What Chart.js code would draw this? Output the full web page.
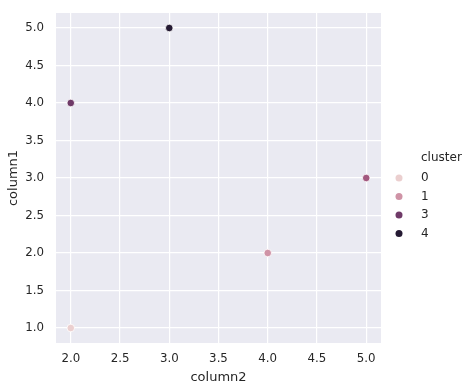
<!DOCTYPE html>
<html>
<head>
<meta charset="utf-8">
<script src="https://cdn.jsdelivr.net/npm/chart.js@4/dist/chart.umd.min.js"></script>
<style>
html,body{margin:0;padding:0;background:#fff;}
#wrap{width:474px;height:392px;position:relative;}
</style>
</head>
<body>
<div id="wrap"><canvas id="c" width="474" height="392"></canvas></div>
<script>
// Data
const column2 = [2, 4, 5, 2, 3];
const column1 = [1, 2, 3, 4, 5];
const cluster = [0, 1, 2, 3, 4];
const clusterColors = {0: '#ebcfcf', 1: '#cf93a6', 2: '#a2587f', 3: '#6f3a68', 4: '#251a33'};
const legendLabels = ['0', '1', '3', '4'];
const xTicks = [2.0, 2.5, 3.0, 3.5, 4.0, 4.5, 5.0];
const yTicks = [1.0, 1.5, 2.0, 2.5, 3.0, 3.5, 4.0, 4.5, 5.0];

const textColor = '#262626';
const font = "'DejaVu Sans', sans-serif";

const points = column2.map((x, i) => ({x: x, y: column1[i]}));
const colors = cluster.map(c => clusterColors[c]);

const bgPlugin = {
  id: 'bg',
  beforeDraw(chart) {
    const {ctx, chartArea: a} = chart;
    ctx.save();
    ctx.fillStyle = '#eaeaf2';
    ctx.fillRect(a.left, a.top, a.right - a.left, a.bottom - a.top);
    ctx.restore();
  }
};

const legendPlugin = {
  id: 'customLegend',
  afterDraw(chart) {
    const ctx = chart.ctx;
    ctx.save();
    ctx.fillStyle = textColor;
    ctx.font = "12px " + font;
    ctx.textBaseline = 'middle';
    ctx.textAlign = 'left';
    ctx.fillText('cluster', 421, 158);
    const ys = [178, 196.5, 215, 233.5];
    legendLabels.forEach((lab, i) => {
      ctx.beginPath();
      ctx.arc(399, ys[i], 3.5, 0, Math.PI * 2);
      ctx.fillStyle = clusterColors[Number(lab)];
      ctx.fill();
      ctx.fillStyle = textColor;
      ctx.fillText(lab, 421, ys[i]);
    });
    ctx.restore();
  }
};

new Chart(document.getElementById('c'), {
  type: 'scatter',
  data: {
    datasets: [{
      label: 'cluster',
      data: points,
      pointBackgroundColor: colors,
      pointBorderColor: '#ffffff',
      pointBorderWidth: 0.8,
      pointRadius: 3.8,
      pointHoverRadius: 3.8
    }]
  },
  options: {
    responsive: false,
    animation: false,
    devicePixelRatio: 1,
    layout: {padding: {top: 13, right: 93, left: 0, bottom: 0}},
    plugins: {legend: {display: false}, tooltip: {enabled: false}},
    scales: {
      x: {
        type: 'linear',
        min: 1.85, max: 5.15,
        border: {display: false},
        grid: {color: '#ffffff', lineWidth: 1.2, drawTicks: false},
        afterBuildTicks(s) { s.ticks = xTicks.map(v => ({value: v})); },
        afterFit(s) { s.height = 49; s.paddingLeft = 0; s.paddingRight = 0; },
        ticks: {
          color: textColor, font: {family: font, size: 11.8}, padding: 9,
          maxRotation: 0, autoSkip: false,
          callback: v => Number(v).toFixed(1)
        },
        title: {display: true, text: 'column2', color: textColor,
          font: {family: font, size: 13}, padding: {top: 0, bottom: 7}}
      },
      y: {
        type: 'linear',
        min: 0.8, max: 5.2,
        border: {display: false},
        grid: {color: '#ffffff', lineWidth: 1.2, drawTicks: false},
        afterBuildTicks(s) { s.ticks = yTicks.map(v => ({value: v})); },
        afterFit(s) { s.width = 56; s.paddingTop = 0; s.paddingBottom = 0; },
        ticks: {
          color: textColor, font: {family: font, size: 11.8}, padding: 12,
          autoSkip: false,
          callback: v => Number(v).toFixed(1)
        },
        title: {display: true, text: 'column1', color: textColor,
          font: {family: font, size: 13}, padding: {top: 6, bottom: 0}}
      }
    }
  },
  plugins: [bgPlugin, legendPlugin]
});
</script>
</body>
</html>
